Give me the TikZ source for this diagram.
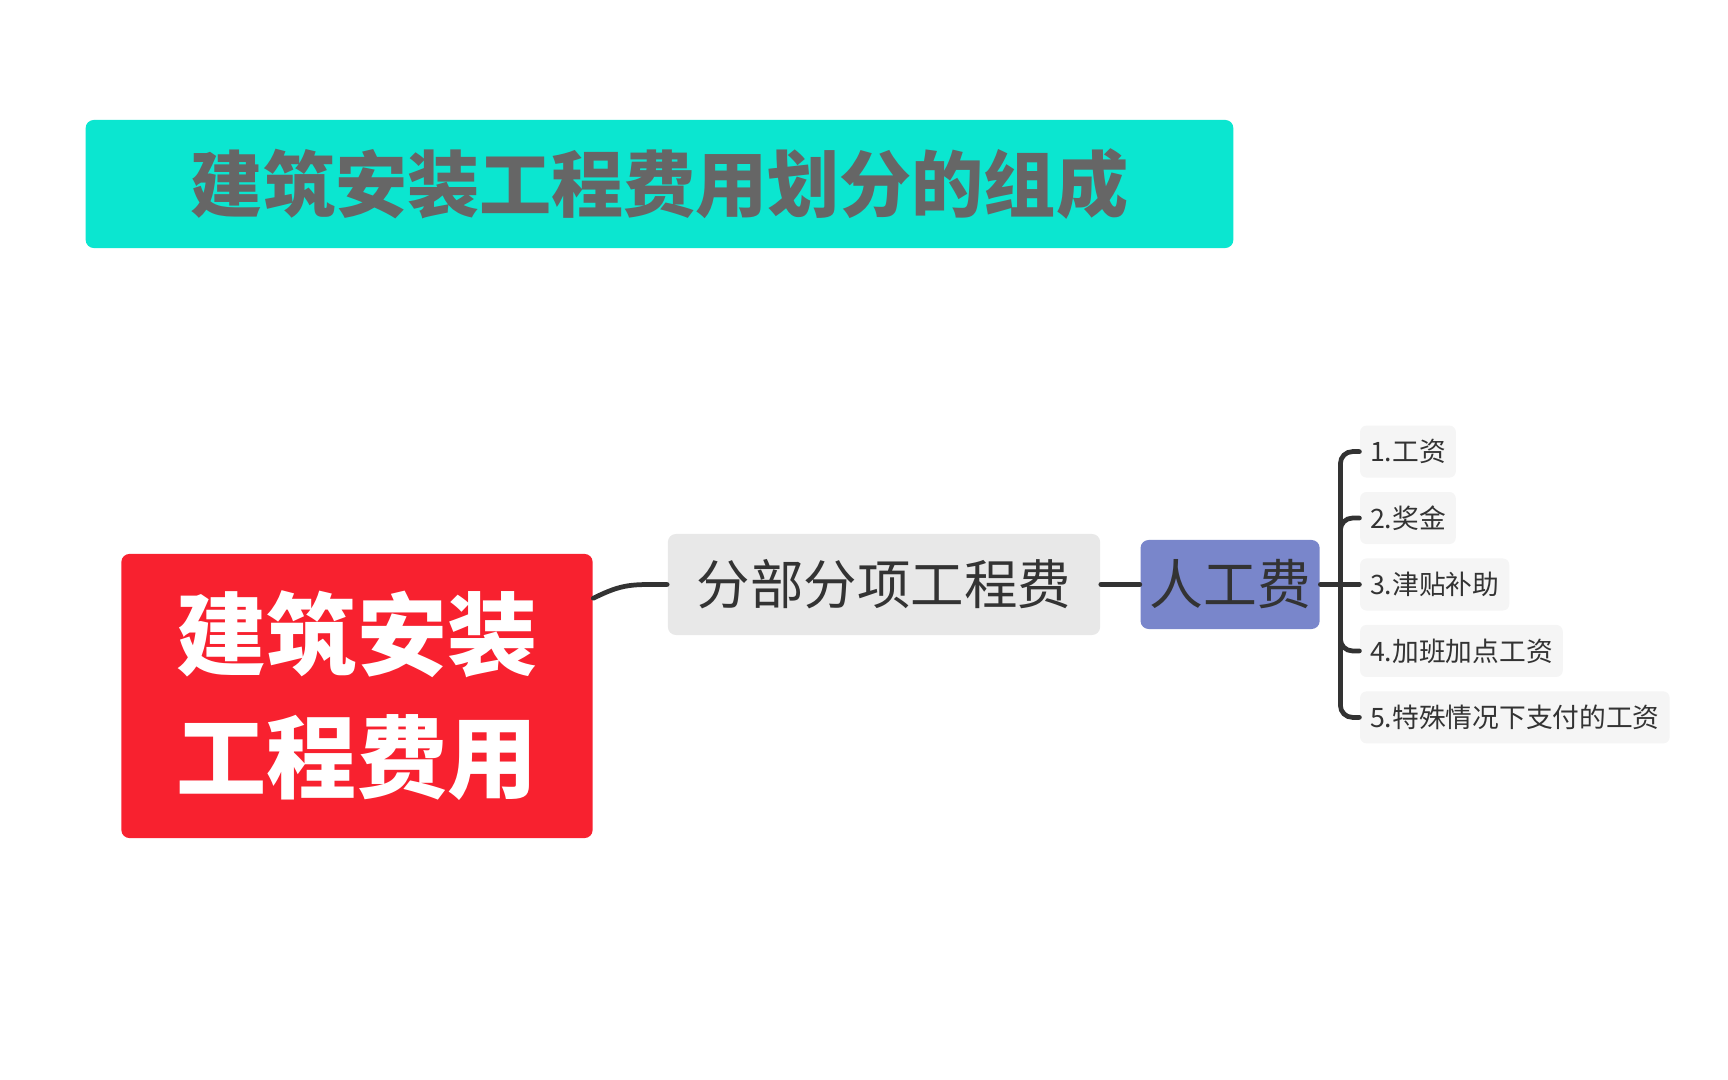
\documentclass[tikz,border=0pt]{standalone}
\usepackage{fontspec}
\newfontfamily\cjk{Noto Sans CJK SC}
\usepackage{tikz}
\usetikzlibrary{positioning}

\definecolor{titlecyan}{HTML}{0BE6D0}
\definecolor{titlegray}{HTML}{666666}
\definecolor{rootred}{HTML}{F8212F}
\definecolor{topicgray}{HTML}{E8E8E8}
\definecolor{subblue}{HTML}{7986CB}
\definecolor{leafgray}{HTML}{F5F5F5}
\definecolor{ink}{HTML}{333333}

\begin{document}
\begin{tikzpicture}[x=0.01cm,y=0.01cm,line cap=round,
                    link/.style={draw=ink,line width=1.35pt}]

  \tikzstyle{every node}=[font=\cjk,text=ink,inner sep=0pt]
  \tikzstyle{titlebox}=[fill=titlecyan,rounded corners=2.3pt,
                        minimum width=11.47cm,minimum height=1.28cm,
                        text=titlegray,font=\cjk\bfseries\fontsize{20.5pt}{24pt}\selectfont]
  \tikzstyle{rootbox}=[fill=rootred,rounded corners=2.3pt,align=center,
                       minimum width=4.71cm,minimum height=2.84cm,
                       text=white,font=\cjk\bfseries\fontsize{25.6pt}{35pt}\selectfont]
  \tikzstyle{topic}=[fill=topicgray,rounded corners=2.3pt,
                     minimum width=4.32cm,minimum height=1.01cm,
                     font=\cjk\fontsize{15.2pt}{18pt}\selectfont]
  \tikzstyle{subtopic}=[fill=subblue,rounded corners=2.3pt,
                        minimum width=1.79cm,minimum height=0.89cm,
                        font=\cjk\fontsize{15.3pt}{18pt}\selectfont]
  \tikzstyle{leaf}=[fill=leafgray,rounded corners=1.8pt,inner xsep=0.1cm,
                    minimum height=0.52cm,
                    font=\cjk\fontsize{7.6pt}{9pt}\selectfont]

  \useasboundingbox (0,0) rectangle (1728,-1080);

  \node[titlebox] (T)  at (659.5,-184) {建筑安装工程费用划分的组成};
  \node[rootbox]  (JA) at (357,-696)   {建筑安装\\工程费用};
  \node[topic]    (FB) at (884,-584.5) {分部分项工程费};
  \node[subtopic] (RG) [right=0.39cm of FB] {人工费};

  \node[leaf] (L3) [right=0.39cm of RG] {3.津贴补助};
  \node[leaf] (L2) [above=0.13cm of L3.north west,anchor=south west] {2.奖金};
  \node[leaf] (L1) [above=0.13cm of L2.north west,anchor=south west] {1.工资};
  \node[leaf] (L4) [below=0.13cm of L3.south west,anchor=north west] {4.加班加点工资};
  \node[leaf] (L5) [below=0.13cm of L4.south west,anchor=north west] {5.特殊情况下支付的工资};

  \coordinate (JAo) at ([yshift=-0.45cm]JA.north east);
  \coordinate (F)   at ([xshift=0.2cm]RG.east);

  \draw[link] (JAo) .. controls +(0.3cm,0.15cm) and +(-0.35cm,0) .. (FB.west);
  \draw[link] (FB.east) -- (RG.west);
  \draw[link] (RG.east) -- (L3.west);
  \draw[link,rounded corners=0.12cm] (F) |- (L1.west)
                                     (F) |- (L2.west)
                                     (F) |- (L4.west)
                                     (F) |- (L5.west);
\end{tikzpicture}
\end{document}
